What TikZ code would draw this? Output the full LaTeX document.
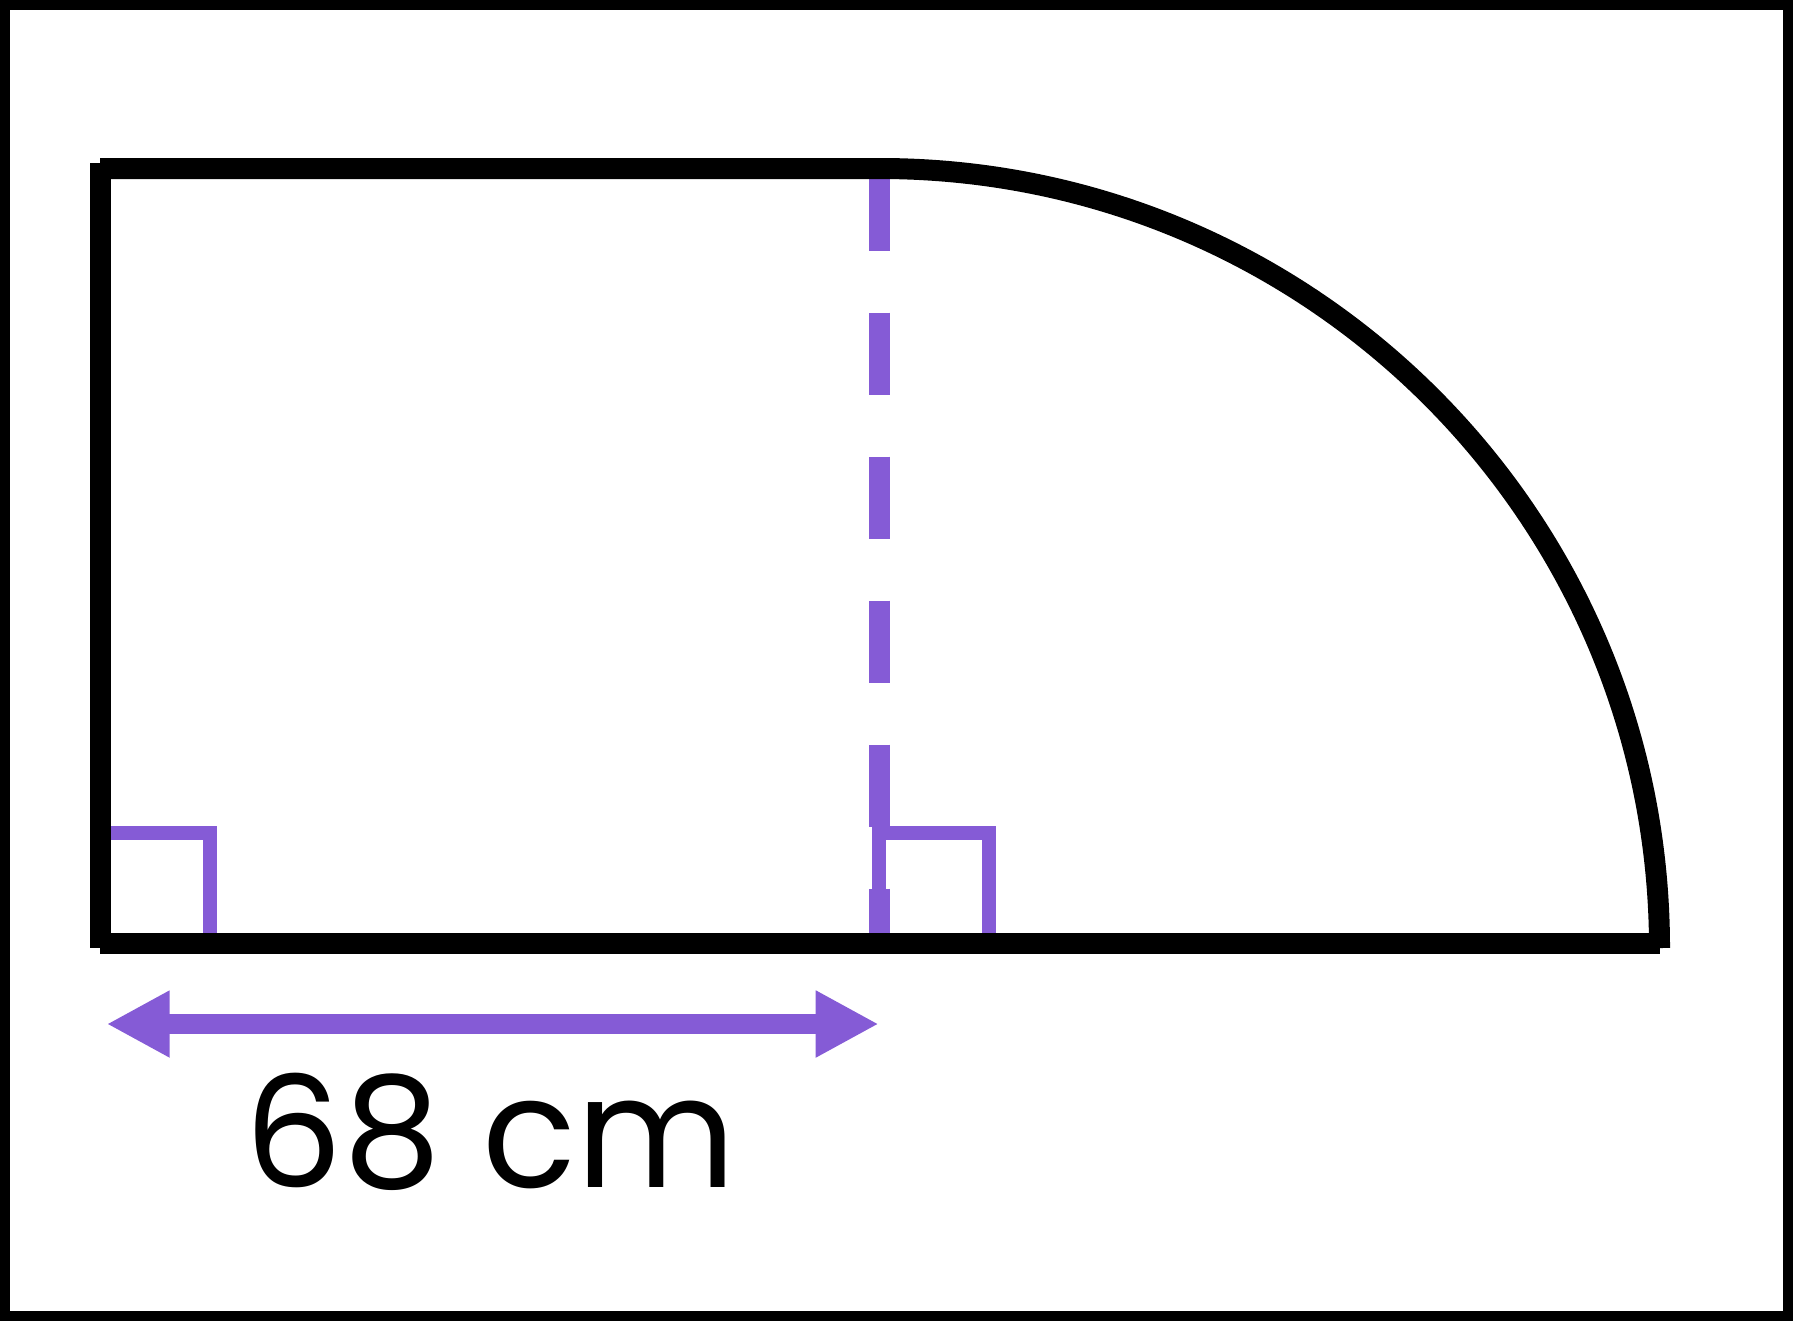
\documentclass[tikz,border=0pt]{standalone}
\usepackage{fontspec}
\setmainfont{Poppins}
\usetikzlibrary{arrows.meta}
\definecolor{purp}{RGB}{133,91,214}
\tikzset{
  blackline/.style={line width=21pt, black, line cap=butt},
  purpline/.style={line width=14pt, purp, line cap=butt, line join=miter},
  dashline/.style={line width=21pt, purp, line cap=butt, dash pattern=on 82pt off 62pt},
  dimarrow/.style={line width=20pt, purp, {Triangle[length=63pt,width=62.5pt]}-{Triangle[length=63pt,width=62.5pt]}},
  lbl/.style={font=\fontsize{155}{155}\selectfont, inner sep=0pt, anchor=base}
}
\begin{document}
\begin{tikzpicture}[x=1pt,y=-1pt]
\useasboundingbox (0,0) rectangle (1793,1327);
\draw[line width=10pt, black] (5,5) rectangle (1788,1316);
% coordinates
\coordinate (TL) at (100,168.5);
\coordinate (TM) at (879.5,168.5);
\coordinate (BL) at (100,943.5);
\coordinate (BM) at (879.5,943.5);
\coordinate (BR) at (1659.5,943.5);
% dashed height
\draw[dashline] (TM) -- (BM);
% right angle marks
\draw[purpline] (100,833) -- (209.7,833) -- (209.7,943.5);
\draw[purpline] (879,943.5) -- (879,833) -- (989,833) -- (989,943.5);
% outline
\draw[blackline] (TL) -- (TM) arc[start angle=90, end angle=0, x radius=780, y radius=-779.5];
\draw[blackline] (100,163) -- (100,948);
\draw[blackline] (BL) -- (BR);
% dimension arrow
\coordinate (A1) at (106.7,1024);
\coordinate (A2) at (878.7,1024);
\draw[dimarrow] (A1) -- (A2);
\node[lbl] (len) at (490.5,1187) {68 cm};
\end{tikzpicture}
\end{document}
